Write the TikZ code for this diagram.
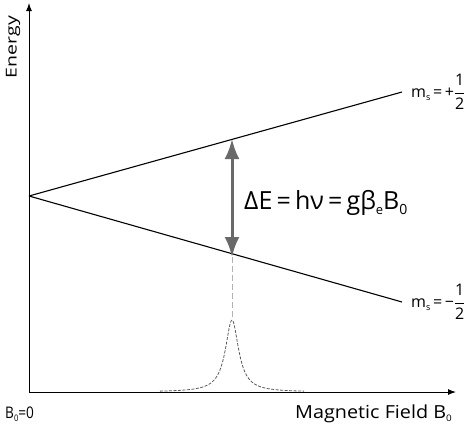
\documentclass[tikz,border=0pt]{standalone}
\usepackage{fontspec}
\setmainfont{Open Sans}
\usetikzlibrary{arrows.meta}
\definecolor{arrowgray}{RGB}{105,105,105}
\definecolor{peakgray}{RGB}{90,90,90}
\tikzset{
  axis/.style={line width=1pt,-{Latex[length=8pt,width=6pt]}},
  level/.style={line width=1.1pt},
  gap/.style={line width=3pt,arrowgray,{Latex[length=20pt,width=15pt]}-{Latex[length=20pt,width=15pt]}},
  guide/.style={line width=0.7pt,gray!60,dash pattern=on 6pt off 3pt},
  peak/.style={line width=0.8pt,peakgray,dash pattern=on 3pt off 1.5pt},
  lbl/.style={inner sep=0pt,font=\fontsize{16}{18}\selectfont}
}
\newcommand{\sub}[1]{\raisebox{-0.35ex}{\fontsize{9}{9}\selectfont #1}}
\newcommand{\half}{$\displaystyle\frac{\mbox{1}}{\mbox{2}}$}
\begin{document}
\begin{tikzpicture}[x=1pt,y=-1pt]
\useasboundingbox (0,0) rectangle (474,424);
\coordinate (O) at (29,392);
\coordinate (ytip) at (29,3);
\coordinate (xtip) at (456,392);
\coordinate (split) at (29,196);
\coordinate (upend) at (402,92);
\coordinate (loend) at (402,302);
\coordinate (atop) at (232,139);
\coordinate (abot) at (232,257);
\coordinate (ptop) at (232,320);
\draw[axis] (O) -- (ytip);
\draw[axis] (O) -- (xtip);
\draw[level] (split) -- (upend);
\draw[level] (split) -- (loend);
\draw[gap] (abot) -- (atop);
\draw[guide] (abot) -- (ptop);
\draw[peak] plot[domain=160:304,samples=200,smooth] (\x,{392-72/(1+((\x-232)/8)^2)});
\node[lbl,rotate=90,anchor=center,font=\fontsize{15}{17}\selectfont] (energy) at (13,47) {\scalebox{1.3}[1]{Energy}};
\node[lbl,anchor=base west] (b0) at (5,418) {\scalebox{0.85}[1]{B\sub{0}=0}};
\node[lbl,anchor=base west,font=\fontsize{18}{20}\selectfont] (mf) at (295,418) {\scalebox{1.1}[1]{Magnetic Field B\sub{0}}};
\node[inner sep=0pt,anchor=base west,font=\fontsize{25}{27}\selectfont] (eq) at (244,209) {ΔE\,=\,hν\,=\,gβ\raisebox{-0.4ex}{\fontsize{13}{13}\selectfont e}B\raisebox{-0.4ex}{\fontsize{14}{14}\selectfont 0}};
\node[lbl,anchor=west] (mup) at (411,92) {m\sub{s}\,=\,+\half};
\node[lbl,anchor=west] (mlo) at (411,302) {m\sub{s}\,=\,−\half};
\end{tikzpicture}
\end{document}
